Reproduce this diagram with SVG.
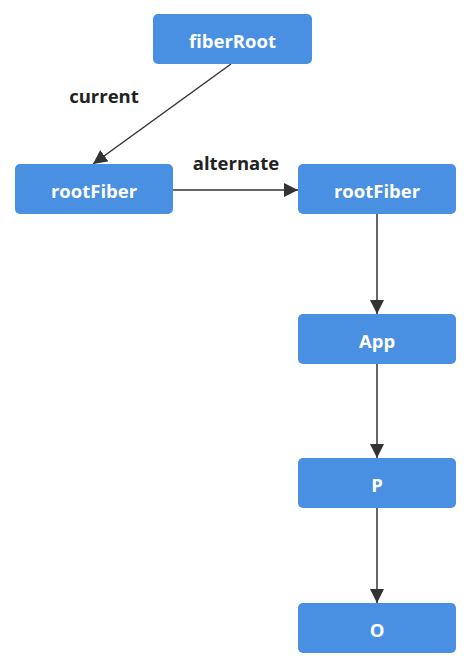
<svg xmlns="http://www.w3.org/2000/svg" width="474" height="669" viewBox="0 0 474 669">
<style>
.node rect{fill:#4a90e2;}
.node text{fill:#ffffff;font-family:"Open Sans","DejaVu Sans",sans-serif;font-weight:bold;font-size:18.5px;text-anchor:middle;dominant-baseline:central;}
.edge{stroke:#333333;stroke-width:1.5;fill:none;marker-end:url(#arr);}
.lbl{fill:#222222;font-family:"Open Sans","DejaVu Sans",sans-serif;font-weight:bold;font-size:18.5px;text-anchor:middle;dominant-baseline:central;}
</style>
<defs>
<marker id="arr" viewBox="0 0 10 10" refX="10" refY="5" markerWidth="14" markerHeight="14" markerUnits="userSpaceOnUse" orient="auto">
<path d="M0,0 L10,5 L0,10 z" fill="#333333"/>
</marker>
</defs>
<rect width="474" height="669" fill="#ffffff"/>
<g id="connectors">
<line class="edge" x1="231" y1="64" x2="93" y2="164"/>
<line class="edge" x1="173" y1="190" x2="298" y2="190"/>
<line class="edge" x1="377" y1="214" x2="377" y2="314"/>
<line class="edge" x1="377" y1="364" x2="377" y2="458"/>
<line class="edge" x1="377" y1="508" x2="377" y2="603"/>
<text class="lbl" x="104" y="95">current</text>
<text class="lbl" x="236" y="162">alternate</text>
</g>
<g id="fiberRoot" class="node"><rect x="153" y="14" width="159" height="50" rx="5"/><text x="232.5" y="40">fiberRoot</text></g>
<g id="rootFiber1" class="node"><rect x="15" y="164" width="158" height="50" rx="5"/><text x="94" y="190">rootFiber</text></g>
<g id="rootFiber2" class="node"><rect x="298" y="164" width="158" height="50" rx="5"/><text x="377" y="190">rootFiber</text></g>
<g id="App" class="node"><rect x="298" y="314" width="158" height="50" rx="5"/><text x="377" y="340">App</text></g>
<g id="P" class="node"><rect x="298" y="458" width="158" height="50" rx="5"/><text x="377" y="484">P</text></g>
<g id="O" class="node"><rect x="298" y="603" width="158" height="50" rx="5"/><text x="377" y="629">O</text></g>
</svg>
